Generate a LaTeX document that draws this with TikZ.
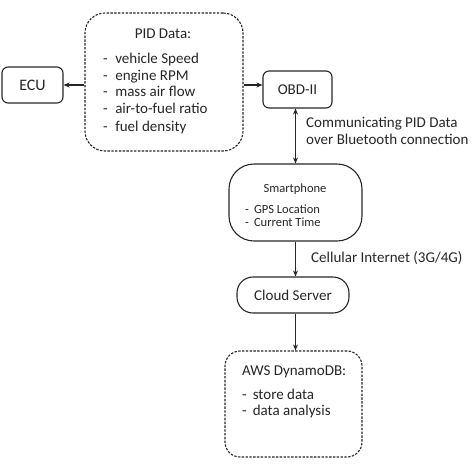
\documentclass[tikz,border=0pt]{standalone}
\usepackage{fontspec}
\setmainfont{Carlito}
\usetikzlibrary{arrows.meta}
\definecolor{ink}{HTML}{262626}
\tikzset{
  boxsolid/.style={draw=ink, line width=1.1pt, rounded corners=#1, inner sep=0pt},
  boxdash/.style={draw=ink, line width=1.1pt, rounded corners=#1, inner sep=0pt, dash pattern=on 2.4pt off 1.4pt},
  big/.style={font=\fontsize{15}{17}\selectfont, text=ink},
  small/.style={font=\fontsize{12.5}{14}\selectfont, text=ink},
  txt/.style={inner sep=0pt, anchor=base west},
  conn/.style={draw=ink, line width=1.1pt, -{Stealth[length=6pt,width=5pt]}},
}
\begin{document}
\begin{tikzpicture}[x=1pt,y=-1pt]
\useasboundingbox (0,0) rectangle (474,467);
% boxes
\node[boxsolid=6pt, minimum width=61pt, minimum height=36pt, big, font=\fontsize{16}{17}\selectfont] (ecu) at (32.5,85) {ECU};
\node[boxdash=20pt, minimum width=158pt, minimum height=138pt] (pid) at (164,82) {};
\node[boxsolid=6pt, minimum width=69pt, minimum height=37pt, big] (obd) at (297.5,89.5) {OBD-II};
\node[boxsolid=25pt, minimum width=133pt, minimum height=77pt] (phone) at (295.5,202.5) {};
\node[boxsolid=16pt, minimum width=112pt, minimum height=36pt, big] (cloud) at (293,295) {Cloud Server};
\node[boxdash=15pt, minimum width=137pt, minimum height=106pt] (aws) at (293.5,404) {};
% PID texts
\node[txt, big, anchor=base] (pidt) at (163,38) {PID Data:};
\node[txt, big] (p1) at (103,63) {-\hspace{7.5pt}vehicle Speed};
\node[txt, big] (p2) at (103,80) {-\hspace{7.5pt}engine RPM};
\node[txt, big] (p3) at (103,96) {-\hspace{7.5pt}mass air flow};
\node[txt, big] (p4) at (103,113) {-\hspace{7.5pt}air-to-fuel ratio};
\node[txt, big] (p5) at (103,131) {-\hspace{7.5pt}fuel density};
% phone texts
\node[txt, small, anchor=base] (pht) at (295,192) {Smartphone};
\node[txt, small] (ph1) at (245,213) {-\hspace{5pt}GPS Location};
\node[txt, small] (ph2) at (245,226) {-\hspace{5pt}Current Time};
% aws texts
\node[txt, big] (awst) at (242,375) {AWS DynamoDB:};
\node[txt, big] (a1) at (242,399) {-\hspace{6pt}store data};
\node[txt, big] (a2) at (242,415) {-\hspace{6pt}data analysis};
% labels
\node[big, align=left, inner sep=0pt, anchor=west] (btl) at (306,131) {Communicating PID Data\\over Bluetooth connection};
\node[big, inner sep=0pt, anchor=west] (cell) at (311,258) {Cellular Internet (3G/4G)};
% connectors
\draw[conn] (pid.west |- ecu.east) -- (ecu.east);
\draw[conn] (pid.east |- ecu.east) -- (obd.west |- ecu.east);
\draw[conn, {Stealth[length=6pt,width=5pt]}-{Stealth[length=6pt,width=5pt]}] (phone.north |- obd.south) -- (phone.north);
\draw[conn] (phone.south) -- (phone.south |- cloud.north);
\draw[conn] (phone.south |- cloud.south) -- (phone.south |- aws.north);
\end{tikzpicture}
\end{document}
